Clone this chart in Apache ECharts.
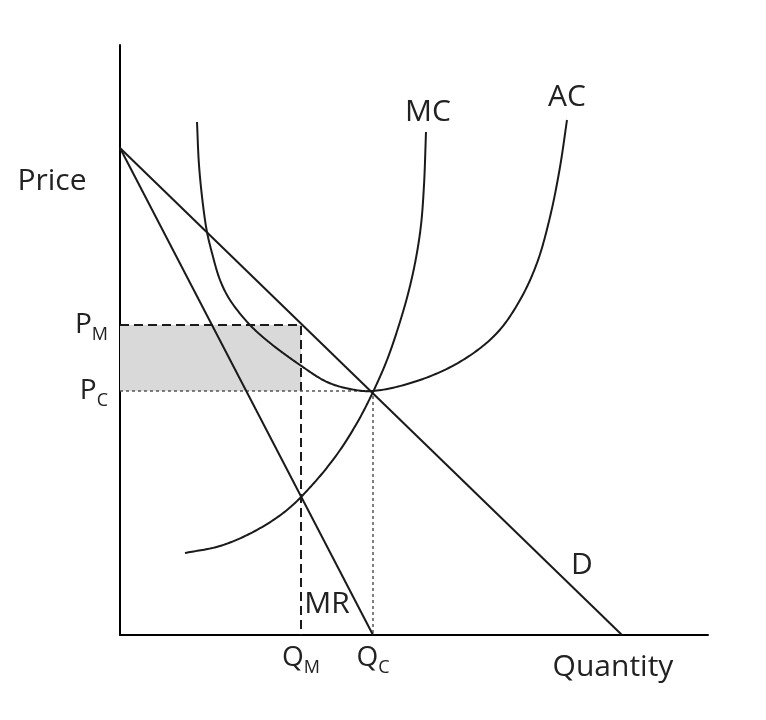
<!DOCTYPE html>
<html><head><meta charset="utf-8">
<script src="https://cdn.jsdelivr.net/npm/echarts@6/dist/echarts.min.js"></script>
<style>html,body{margin:0;padding:0;background:#fff}#c{width:766px;height:720px}</style>
</head><body><div id="c"></div>
<script>
// Data (in diagram units)
const demand = [[0, 487], [502, 0]];
const marginalRevenue = [[0, 487], [253, 0]];
const marginalCost = [[65, 82], [100, 89], [135, 104], [167, 125], [194, 152], [218, 182], [237, 212], [253, 243], [267, 275], [279, 310], [289, 345], [296, 377], [301, 410], [304, 450], [306, 503]];
const averageCost = [[77, 513], [79, 470], [83, 430], [87, 403], [92, 382], [100, 355], [110, 335], [130, 310], [150, 292], [180, 270], [207, 253], [230, 246], [253, 244], [300, 255], [343, 275], [377, 302], [400, 335], [417, 372], [430, 418], [440, 468], [447, 515]];
const monopolyPoint = [181, 310];   // Q_M, P_M
const competitivePoint = [253, 244]; // Q_C, P_C
const priceTicks = [244, 310];
const priceTickLabels = ['{p|P}{s|C}', '{p|P}{s|M}'];
const quantityTicks = [181, 253];
const quantityTickLabels = ['{p|Q}{s|M}', '{p|Q}{s|C}'];
const curveLabels = [
  { name: 'Price', value: [-68, 454] },
  { name: 'Quantity', value: [493, -32] },
  { name: 'MC', value: [308, 523] },
  { name: 'AC', value: [447, 538] },
  { name: 'D', value: [462, 70] },
  { name: 'MR', value: [207, 31] }
];

const FONT = '"Open Sans", sans-serif';
const INK = '#1a1a1a';
const TEXT = '#222';
const rich = {
  p: { fontSize: 28, fontFamily: FONT, color: TEXT, lineHeight: 30 },
  s: { fontSize: 18, fontFamily: FONT, color: TEXT, padding: [20, 0, 0, 0], lineHeight: 30 }
};

// Centripetal Catmull-Rom rendering of a curve through the given (pixel) points
function splinePixels(px) {
  const n = px.length;
  const ext = (a, b) => [2 * a[0] - b[0], 2 * a[1] - b[1]];
  const pts = [ext(px[0], px[1])].concat(px, [ext(px[n - 1], px[n - 2])]);
  const out = [];
  const dist = (a, b) => Math.max(Math.pow(Math.hypot(b[0] - a[0], b[1] - a[1]), 0.5), 1e-4);
  for (let i = 1; i < pts.length - 2; i++) {
    const p0 = pts[i - 1], p1 = pts[i], p2 = pts[i + 1], p3 = pts[i + 2];
    const t0 = 0, t1 = t0 + dist(p0, p1), t2 = t1 + dist(p1, p2), t3 = t2 + dist(p2, p3);
    const steps = 20;
    for (let k = 0; k < steps; k++) {
      const t = t1 + (t2 - t1) * k / steps;
      const lerp = (a, b, ta, tb) => [((tb - t) * a[0] + (t - ta) * b[0]) / (tb - ta), ((tb - t) * a[1] + (t - ta) * b[1]) / (tb - ta)];
      const A1 = lerp(p0, p1, t0, t1), A2 = lerp(p1, p2, t1, t2), A3 = lerp(p2, p3, t2, t3);
      const B1 = lerp(A1, A2, t0, t2), B2 = lerp(A2, A3, t1, t3);
      out.push(lerp(B1, B2, t1, t2));
    }
  }
  out.push(px[n - 1]);
  return out;
}
function curveSeries(points) {
  return {
    type: 'custom', coordinateSystem: 'cartesian2d', clip: false, z: 3, silent: true,
    data: [points[0]],
    renderItem: (params, api) => ({
      type: 'polyline',
      shape: { points: splinePixels(points.map(p => api.coord(p))) },
      style: { stroke: INK, lineWidth: 2, fill: null, lineJoin: 'round' }
    })
  };
}

const chart = echarts.init(document.getElementById('c'), null, { renderer: 'canvas' });
const lineStyle = { color: INK, width: 2 };
chart.setOption({
  animation: false,
  backgroundColor: '#fff',
  grid: { left: 120, right: 58, top: 45, bottom: 85 },
  xAxis: {
    type: 'value', min: 0, max: 588,
    splitLine: { show: false },
    axisTick: { show: false },
    axisLine: { show: true, onZero: false, lineStyle: { color: '#000', width: 2 } },
    axisLabel: {
      customValues: quantityTicks,
      margin: 8,
      formatter: v => quantityTickLabels[quantityTicks.indexOf(v)] || '',
      rich: rich
    }
  },
  yAxis: {
    type: 'value', min: 0, max: 590,
    splitLine: { show: false },
    axisTick: { show: false },
    axisLine: { show: true, onZero: false, lineStyle: { color: '#000', width: 2 } },
    axisLabel: {
      customValues: priceTicks,
      margin: 12,
      formatter: v => priceTickLabels[priceTicks.indexOf(v)] || '',
      rich: rich
    }
  },
  series: [
    {
      type: 'line', data: [], z: 1, silent: true,
      markArea: {
        silent: true,
        itemStyle: { color: '#d9d9d9' },
        data: [[{ coord: [0, competitivePoint[1]] }, { coord: [monopolyPoint[0], monopolyPoint[1]] }]]
      }
    },
    {
      type: 'line', symbol: 'none', z: 2,
      data: [[0, monopolyPoint[1]], monopolyPoint, [monopolyPoint[0], 0]],
      lineStyle: { color: INK, width: 2, type: [9, 5] }
    },
    {
      type: 'line', symbol: 'none', z: 2,
      data: [[0, competitivePoint[1]], competitivePoint, [competitivePoint[0], 0]],
      lineStyle: { color: '#555', width: 1.5, type: [3, 3] }
    },
    { type: 'line', symbol: 'none', z: 3, data: demand, lineStyle: lineStyle },
    { type: 'line', symbol: 'none', z: 3, data: marginalRevenue, lineStyle: lineStyle },
    curveSeries(marginalCost),
    curveSeries(averageCost),
    {
      type: 'scatter', symbolSize: 0, clip: false, z: 5,
      itemStyle: { opacity: 1 },
      data: curveLabels,
      label: {
        show: true, position: 'inside', formatter: p => p.name,
        fontSize: 30, fontFamily: FONT, color: TEXT,
        textBorderWidth: 0, textShadowBlur: 0
      }
    }
  ]
});
</script></body></html>
